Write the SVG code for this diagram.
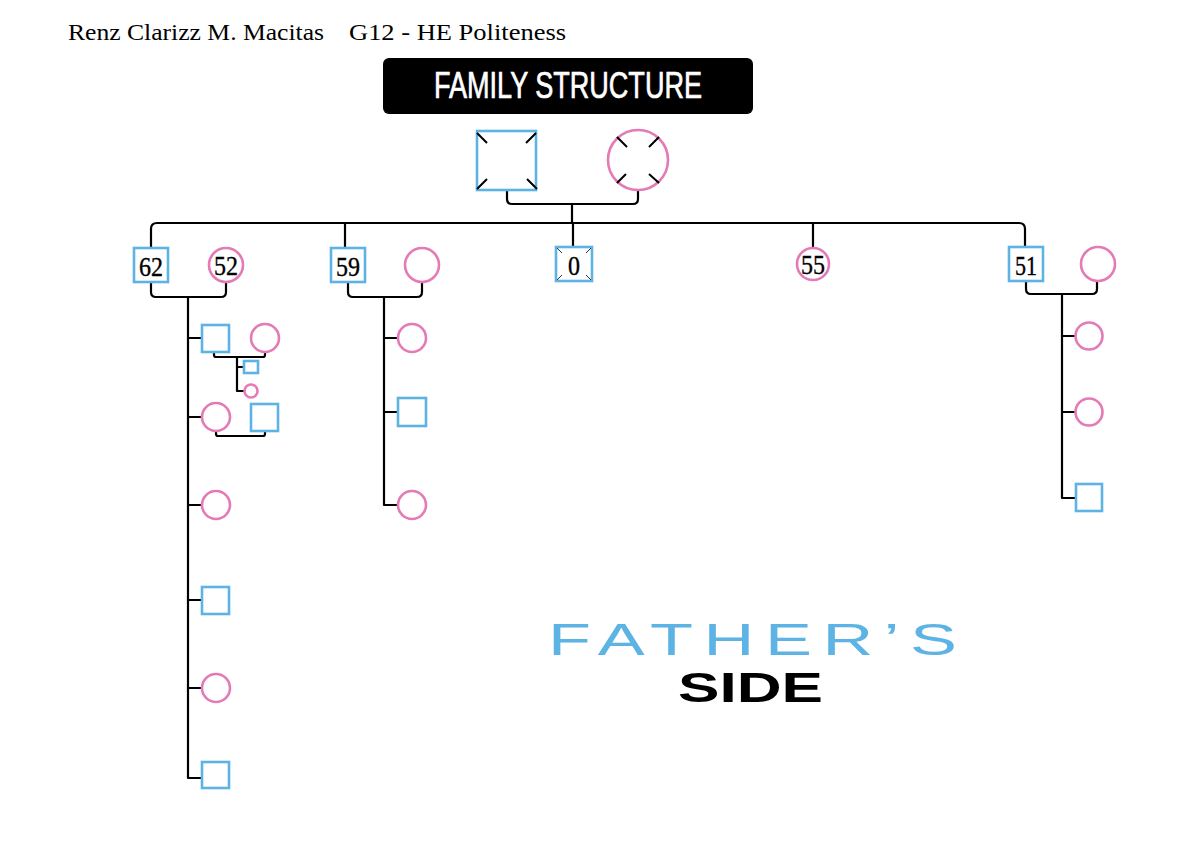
<svg xmlns="http://www.w3.org/2000/svg" width="1200" height="849" viewBox="0 0 1200 849">
<style>
.m{fill:#fff;stroke:#5cb3e4;stroke-width:2.6}
.f{fill:#fff;stroke:#e47ab6;stroke-width:2.6}
.ln{fill:none;stroke:#000;stroke-width:2.2;stroke-linejoin:round}
.tk{stroke:#000;stroke-width:2}
.tks{stroke:#333;stroke-width:1}
.age{font-family:"Liberation Serif","Times New Roman",serif;font-size:28px;fill:#000;stroke:#000;stroke-width:0.4;text-anchor:middle}
.hdr{font-family:"Liberation Serif","Times New Roman",serif;font-size:24px;fill:#000}
</style>
<rect width="1200" height="849" fill="#fff"/>
<text class="hdr" x="68" y="40" textLength="256" lengthAdjust="spacingAndGlyphs">Renz Clarizz M. Macitas</text>
<text class="hdr" x="349" y="40" textLength="217" lengthAdjust="spacingAndGlyphs">G12 - HE Politeness</text>
<g id="title">
<rect x="383" y="58" width="370" height="56" rx="6" fill="#000"/>
<text x="434" y="98" font-family="Liberation Sans,Arial,sans-serif" font-size="37" fill="#fff" stroke="#fff" stroke-width="0.7" textLength="268" lengthAdjust="spacingAndGlyphs">FAMILY STRUCTURE</text>
</g>
<g id="connectors">
<path class="ln" d="M507,190 V199 Q507,204 512,204 H633 Q638,204 638,199 V190"/>
<path class="ln" d="M572,204 V223"/>
<path class="ln" d="M151,248 V229 Q151,223 157,223 H1019 Q1025,223 1025,229 V247"/>
<path class="ln" d="M345,223 V248"/>
<path class="ln" d="M573,223 V247"/>
<path class="ln" d="M813,223 V248"/>
<path class="ln" d="M151,282 V292 Q151,297 156,297 H221 Q226,297 226,292 V282"/>
<path class="ln" d="M348,282 V292 Q348,297 353,297 H417 Q422,297 422,292 V282"/>
<path class="ln" d="M1026,281 V289 Q1026,294 1031,294 H1092 Q1097,294 1097,289 V281"/>
<path class="ln" d="M188,297 V778 H202 M188,338 H202 M188,417 H202 M188,505 H202 M188,600 H202 M188,688 H202"/>
<path class="ln" d="M384,297 V505 H398 M384,338 H398 M384,412 H398"/>
<path class="ln" d="M1062,294 V498 H1076 M1062,336 H1076 M1062,412 H1076"/>
<path class="ln" d="M214,352 V355 Q214,357 216,357 H263 Q265,357 265,355 V352"/>
<path class="ln" d="M237,357 V391 H244 M237,367 H244"/>
<path class="ln" d="M216,431 V434 Q216,436 218,436 H263 Q265,436 265,434 V431"/>
</g>
<g id="grandfather">
<rect class="m" x="477" y="131" width="59" height="59"/>
<path class="tk" d="M477,133 L487,143 M536,133 L526,143 M487,179 L477,189 M527,179 L537,189"/>
</g>
<g id="grandmother">
<circle class="f" cx="638" cy="160" r="30"/>
<path class="tk" d="M617,137 L627,147 M659,137 L649,147 M626,174 L617,183 M649,174 L659,183"/>
</g>
<g id="son62"><rect class="m" x="134" y="248" width="34" height="34"/><text class="age" x="151" y="276" textLength="24" lengthAdjust="spacingAndGlyphs">62</text></g>
<g id="wife52"><circle class="f" cx="226" cy="265" r="17"/><text class="age" x="226" y="275" textLength="24" lengthAdjust="spacingAndGlyphs">52</text></g>
<g id="son59"><rect class="m" x="331" y="248" width="34" height="34"/><text class="age" x="348" y="276" textLength="24" lengthAdjust="spacingAndGlyphs">59</text></g>
<g id="wife59"><circle class="f" cx="422" cy="265" r="17"/></g>
<g id="son0"><rect class="m" x="556" y="247" width="36" height="34"/>
<path class="tks" d="M557,248 L562,253 M591,248 L586,253 M562,275 L557,280 M586,275 L591,280"/>
<text class="age" x="574" y="275" textLength="12" lengthAdjust="spacingAndGlyphs">0</text></g>
<g id="daughter55"><circle class="f" cx="813" cy="264" r="16"/><text class="age" x="813" y="274" textLength="24" lengthAdjust="spacingAndGlyphs">55</text></g>
<g id="son51"><rect class="m" x="1009" y="247" width="34" height="34"/><text class="age" x="1026" y="275" textLength="22" lengthAdjust="spacingAndGlyphs">51</text></g>
<g id="wife51"><circle class="f" cx="1098" cy="264" r="17"/></g>
<g id="g62c1"><rect class="m" x="202" y="325" width="27" height="27"/></g>
<g id="g62c1w"><circle class="f" cx="265" cy="338" r="14"/></g>
<g id="gg1"><rect class="m" x="244" y="361" width="14" height="12"/></g>
<g id="gg2"><circle class="f" cx="251" cy="391" r="6.5"/></g>
<g id="g62c2"><circle class="f" cx="216" cy="417" r="14"/></g>
<g id="g62c2h"><rect class="m" x="251" y="404" width="27" height="27"/></g>
<g id="g62c3"><circle class="f" cx="216" cy="505" r="14"/></g>
<g id="g62c4"><rect class="m" x="202" y="587" width="27" height="27"/></g>
<g id="g62c5"><circle class="f" cx="216" cy="688" r="14"/></g>
<g id="g62c6"><rect class="m" x="202" y="762" width="27" height="26"/></g>
<g id="g59c1"><circle class="f" cx="412" cy="338" r="14"/></g>
<g id="g59c2"><rect class="m" x="398" y="398" width="28" height="28"/></g>
<g id="g59c3"><circle class="f" cx="412" cy="505" r="14"/></g>
<g id="g51c1"><circle class="f" cx="1089" cy="336" r="13.5"/></g>
<g id="g51c2"><circle class="f" cx="1089" cy="412" r="13.5"/></g>
<g id="g51c3"><rect class="m" x="1076" y="484" width="26" height="27"/></g>
<g id="label">
<text transform="scale(1.6,1)" x="342.5" y="655" font-family="Liberation Sans,Arial,sans-serif" font-size="44" fill="#5cb3e4" textLength="255.6" lengthAdjust="spacing">FATHER’S</text>
<text x="678" y="702" font-family="Liberation Sans,Arial,sans-serif" font-weight="bold" font-size="43" fill="#000" textLength="145" lengthAdjust="spacingAndGlyphs">SIDE</text>
</g>
</svg>
